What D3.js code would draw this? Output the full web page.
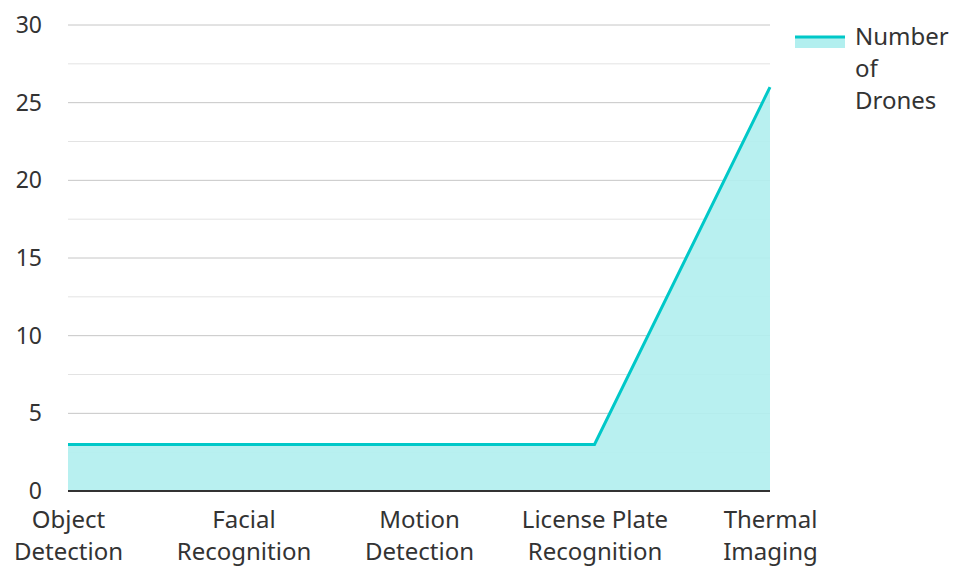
<!DOCTYPE html>
<html>
<head>
<meta charset="utf-8">
<script src="https://cdn.jsdelivr.net/npm/d3@7"></script>
<style>
  body { margin: 0; background: #fff; }
  text { font-family: "Noto Sans", sans-serif; fill: #333; }
</style>
</head>
<body>
<div id="chart"></div>
<script>
var categories = ["Object Detection", "Facial Recognition", "Motion Detection", "License Plate Recognition", "Thermal Imaging"];
var drones = [3, 3, 3, 3, 26];
var seriesName = "Number of Drones";
var yTicks = [0, 5, 10, 15, 20, 25, 30];
var yMinor = [2.5, 7.5, 12.5, 17.5, 22.5, 27.5];

var W = 954, H = 567;
var margin = {top: 25, right: 184, bottom: 76, left: 68},
    width = W - margin.left - margin.right,
    height = H - margin.top - margin.bottom;

var svg = d3.select("#chart").append("svg")
    .attr("width", W)
    .attr("height", H)
    .append("g")
    .attr("transform", "translate(" + margin.left + "," + margin.top + ")");

var x = d3.scalePoint().domain(categories).range([0, width]);
var y = d3.scaleLinear().domain([0, 30]).range([height, 0]);

var lineColor = "#00c8c8", fillColor = "#b2efef";

// grid
svg.selectAll(".minor").data(yMinor).enter().append("line")
    .attr("x1", 0).attr("x2", width)
    .attr("y1", function(d) { return y(d); }).attr("y2", function(d) { return y(d); })
    .style("stroke", "#e3e3e3").style("stroke-width", 1);
svg.selectAll(".major").data(yTicks.slice(1)).enter().append("line")
    .attr("x1", 0).attr("x2", width)
    .attr("y1", function(d) { return y(d); }).attr("y2", function(d) { return y(d); })
    .style("stroke", "#c6c6c6").style("stroke-width", 1);

var data = categories.map(function(c, i) { return {c: c, v: drones[i]}; });

svg.append("path").datum(data)
    .attr("d", d3.area().x(function(d) { return x(d.c); }).y0(y(0)).y1(function(d) { return y(d.v); }))
    .style("fill", fillColor).style("opacity", 0.92);

svg.append("path").datum(data)
    .attr("d", d3.line().x(function(d) { return x(d.c); }).y(function(d) { return y(d.v); }))
    .style("fill", "none").style("stroke", lineColor).style("stroke-width", 3);

// axes
var yAxis = svg.append("g").call(d3.axisLeft(y).tickValues(yTicks).tickSize(0).tickPadding(26));
yAxis.select(".domain").remove();
yAxis.selectAll("text").style("font-size", "23px").attr("text-anchor", "end");

svg.append("line")
    .attr("x1", 0).attr("x2", width).attr("y1", height).attr("y2", height)
    .style("stroke", "#333").style("stroke-width", 2);

var xAxis = svg.append("g").attr("transform", "translate(0," + height + ")")
    .call(d3.axisBottom(x).tickSize(0).tickFormat(""));
xAxis.select(".domain").remove();
xAxis.selectAll(".tick").each(function(d) {
    var words = d.split(" ");
    var lines = words.length > 2 ? [words.slice(0, 2).join(" "), words.slice(2).join(" ")] : words;
    var t = d3.select(this).append("text")
        .attr("text-anchor", "middle")
        .style("font-size", "24px");
    lines.forEach(function(l, i) {
        t.append("tspan").attr("x", 0).attr("y", 37 + i * 32).text(l);
    });
});

// legend
var lg = svg.append("g").attr("transform", "translate(" + (width + 25) + ",0)");
lg.append("rect").attr("x", 0).attr("y", 11).attr("width", 50).attr("height", 12).style("fill", fillColor);
lg.append("line").attr("x1", 0).attr("x2", 50).attr("y1", 12).attr("y2", 12)
    .style("stroke", lineColor).style("stroke-width", 3);
var lt = lg.append("text").style("font-size", "24px");
seriesName.split(" ").forEach(function(w, i) {
    lt.append("tspan").attr("x", 60).attr("y", 20 + i * 32).text(w);
});
</script>
</body>
</html>
